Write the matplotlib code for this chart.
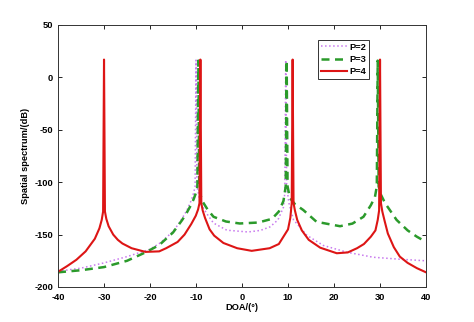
import numpy as np
import matplotlib.pyplot as plt

plt.rcParams['font.family'] = ['Liberation Sans', 'DejaVu Sans']
plt.rcParams['font.weight'] = 'bold'
plt.rcParams['axes.unicode_minus'] = False

# values (DOA in degrees, spectrum in dB)
doa_p2 = [-40, -35, -30, -25, -20, -17.8, -15, -13.5, -12, -11, -10.5, -10.2,
          -10.0, -9.8, -9.5, -9.1, -7.5, -6.2, -3.3, 1.3, 4, 6.1, 7.8, 9, 9.3,
          9.5, 9.7, 10.2, 11.2, 12.6, 14.1, 17.7, 22.8, 28.5, 34.3, 40]
spec_p2 = [-185, -182, -177, -171, -164, -158, -147, -138, -127, -117, -110, -104,
           16.5, -104, -110, -120, -131, -139, -145.8, -147.5, -146, -142.6, -136, -124,
           -110, 16.5, -104, -120, -136, -143, -150.7, -160.4, -166.8, -171.6, -173.5,
           -175]

doa_p3 = [-40, -35, -30, -25, -21, -18, -15, -13, -12, -11, -10.5, -10, -9.7,
          -9.5, -9.3, -9.0, -8.5, -7.5, -6.2, -3.5, -0.5, 3.5, 6.5, 8.0, 9.0, 9.5,
          9.7, 9.9, 10.4, 11.5, 13.3, 16.2, 21.3, 24, 26.4, 28, 28.9, 29.3,
          29.5, 29.7, 30.2, 31.1, 33.6, 36, 38, 40]
spec_p3 = [-186, -184, -181, -175, -167, -160, -148, -136, -129, -121, -116, -110, -104,
           16, -104, -113, -119, -126, -133, -137.5, -139.4, -138.5, -135, -128, -118, -104,
           16, -104, -115, -121, -126.5, -137.8, -142, -139.5, -133, -122, -114, -104,
           16, -104, -112, -120, -136, -146, -152, -157]

doa_p4 = [-40, -38, -36, -34, -32, -31, -30.5, -30.2,
          -30.0,
          -29.8, -29.5, -29, -28, -27, -26, -24, -21, -18, -16.5, -14, -12.5,
          -11.05, -10.05, -9.55, -9.25,
          -9.05,
          -8.85, -8.55, -8.05, -7.05, -6.05, -4.05, -1.05, 2.1, 6, 8, 9, 10, 10.5, 10.8,
          11.0,
          11.2, 11.5, 12, 13, 14.5, 17, 20.6, 23, 25, 26.5, 28, 29, 29.5, 29.8,
          30.0,
          30.2, 30.5, 31, 31.7, 33, 34.3, 36, 38, 40]
spec_p4 = [-185.5, -180, -174, -166, -154, -144, -136, -128,
           17,
           -128, -135, -142, -150, -155, -158.5, -163, -166.5, -166, -163, -157, -150,
           -140, -132, -126, -120,
           17,
           -120, -127, -134, -145, -151, -158, -163, -165.5, -163, -159, -152, -145, -134,
           -120,
           17,
           -120, -127, -136, -146, -155, -162.5, -167.8, -167, -163, -159, -152, -146,
           -136, -127,
           17,
           -120, -128, -137, -149, -162, -171, -177, -182, -186]

fig = plt.figure(figsize=(4.74, 3.22), dpi=100)
ax = fig.add_axes([0.1224, 0.1087, 0.7764, 0.8137])

ax.plot(doa_p2, spec_p2, linestyle=':', color='#c879ee', linewidth=1.1, label='P=2')
ax.plot(doa_p3, spec_p3, linestyle=(0, (3.2, 2.2)), color='#2b9a2b', linewidth=1.8, label='P=3')
ax.plot(doa_p4, spec_p4, linestyle='-', color='#dd1515', linewidth=1.5, label='P=4')

ax.set_xlim(-40, 40)
ax.set_ylim(-200, 50)
ax.set_xticks(np.arange(-40, 41, 10))
ax.set_yticks(np.arange(-200, 51, 50))
ax.tick_params(direction='in', length=3, width=0.6, top=True, right=True,
               labelsize=6.7)
ax.tick_params(axis='x', pad=4)
ax.tick_params(axis='y', pad=3.5)
for label in ax.get_xticklabels() + ax.get_yticklabels():
    label.set_fontweight('bold')
for spine in ax.spines.values():
    spine.set_linewidth(0.7)
    spine.set_color('#333333')

ax.set_xlabel('DOA/(°)', fontsize=6.7, fontweight='bold', labelpad=1)
ax.set_ylabel('Spatial spectrum/(dB)', fontsize=6.7, fontweight='bold', labelpad=3)

leg = ax.legend(loc='upper left', bbox_to_anchor=(0.706, 0.943), fontsize=6.7,
                frameon=True, fancybox=False, edgecolor='black', handlelength=2.8,
                handletextpad=0.25, borderpad=0.3, labelspacing=0.35, borderaxespad=0)
leg.get_frame().set_linewidth(0.7)
for t in leg.get_texts():
    t.set_fontweight('bold')

fig.savefig('out.png', dpi=100)
